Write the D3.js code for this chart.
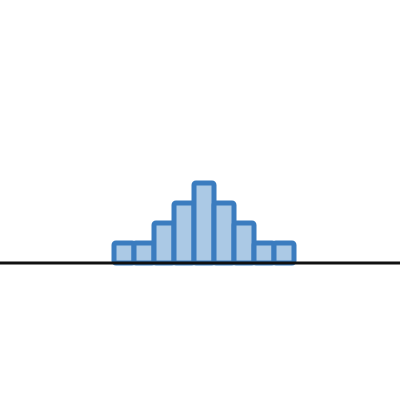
<!DOCTYPE html>
<html><head><meta charset="utf-8">
<script src="https://cdn.jsdelivr.net/npm/d3@7"></script>
<style>body{margin:0;background:#fff}</style></head>
<body><svg width="400" height="400"></svg>
<script>
const bins = ["b1","b2","b3","b4","b5","b6","b7","b8","b9"];
const counts = [1,1,2,3,4,3,2,1,1];
const svg = d3.select("svg");
const x = d3.scaleBand().domain(bins).range([114,294]).padding(0);
const y = d3.scaleLinear().domain([0,4]).range([263,183]);
svg.selectAll("rect").data(counts).join("rect")
  .attr("x",(d,i)=>x(bins[i])).attr("width",x.bandwidth())
  .attr("y",d=>y(d)).attr("height",d=>y(0)-y(d))
  .attr("rx",2)
  .attr("fill","#abc9e5").attr("stroke","#3b7cbf").attr("stroke-width",5);
svg.append("line").attr("x1",0).attr("x2",400).attr("y1",y(0)).attr("y2",y(0))
  .attr("stroke","#111").attr("stroke-width",3);
</script></body></html>
